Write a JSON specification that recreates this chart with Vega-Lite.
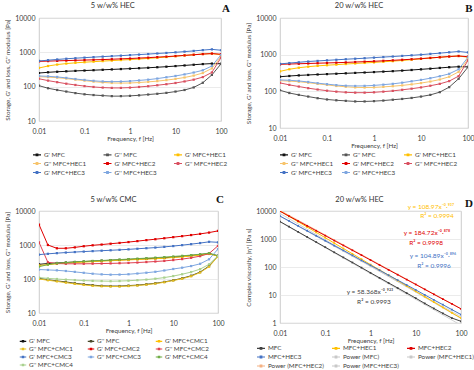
{
"$schema": "https://vega.github.io/schema/vega-lite/v6.json",
"background": "white",
"padding": {"left": 4, "top": 1, "right": 0, "bottom": 0},
"config": {
 "font": "Lato",
 "view": {"stroke": "#bfbfbf", "strokeWidth": 0.8},
 "axis": {"labelFont": "Lato", "labelFontSize": 7, "labelColor": "#404040", "titleFont": "Lato", "titleFontSize": 6.3, "titleFontWeight": "normal", "titleColor": "#404040", "ticks": false, "domain": false, "gridColor": "#e3e3e3", "gridWidth": 0.7, "labelPadding": 4},
 "axisX": {"grid": false, "labelPadding": 6, "titlePadding": 1, "labelFlush": false},
 "axisY": {"grid": true, "titlePadding": 4},
 "legend": {"labelFont": "Lato", "labelFontSize": 6.3, "labelColor": "#404040", "symbolType": "M-1,0H1M-0.2,-0.2H0.2V0.2H-0.2Z", "symbolSize": 64, "symbolStrokeWidth": 1.2, "labelOffset": 2, "gridAlign": "all", "direction": "horizontal", "columns": 3, "orient": "none", "title": null}
},
"datasets": {
 "hec": [
{"s":"G' MFC","f":0.01,"v":250},{"s":"G' MFC","f":0.0158,"v":262},{"s":"G' MFC","f":0.0251,"v":272},{"s":"G' MFC","f":0.0398,"v":280},{"s":"G' MFC","f":0.0631,"v":288},{"s":"G' MFC","f":0.1,"v":295},{"s":"G' MFC","f":0.158,"v":302},{"s":"G' MFC","f":0.251,"v":310},{"s":"G' MFC","f":0.398,"v":318},{"s":"G' MFC","f":0.631,"v":326},{"s":"G' MFC","f":1,"v":335},{"s":"G' MFC","f":1.58,"v":345},{"s":"G' MFC","f":2.51,"v":355},{"s":"G' MFC","f":3.98,"v":368},{"s":"G' MFC","f":6.31,"v":382},{"s":"G' MFC","f":10,"v":398},{"s":"G' MFC","f":15.8,"v":415},{"s":"G' MFC","f":25.1,"v":435},{"s":"G' MFC","f":39.8,"v":455},{"s":"G' MFC","f":63.1,"v":470},{"s":"G' MFC","f":100,"v":465},
{"s":"G'' MFC","f":0.01,"v":107},{"s":"G'' MFC","f":0.0158,"v":90},{"s":"G'' MFC","f":0.0251,"v":80},{"s":"G'' MFC","f":0.0398,"v":72},{"s":"G'' MFC","f":0.0631,"v":65},{"s":"G'' MFC","f":0.1,"v":60},{"s":"G'' MFC","f":0.158,"v":57},{"s":"G'' MFC","f":0.251,"v":55},{"s":"G'' MFC","f":0.398,"v":53},{"s":"G'' MFC","f":0.631,"v":53},{"s":"G'' MFC","f":1,"v":54},{"s":"G'' MFC","f":1.58,"v":56},{"s":"G'' MFC","f":2.51,"v":59},{"s":"G'' MFC","f":3.98,"v":62},{"s":"G'' MFC","f":6.31,"v":66},{"s":"G'' MFC","f":10,"v":72},{"s":"G'' MFC","f":15.8,"v":80},{"s":"G'' MFC","f":25.1,"v":95},{"s":"G'' MFC","f":39.8,"v":130},{"s":"G'' MFC","f":63.1,"v":220},{"s":"G'' MFC","f":100,"v":460},
{"s":"G' MFC+HEC1","f":0.01,"v":350},{"s":"G' MFC+HEC1","f":0.0158,"v":400},{"s":"G' MFC+HEC1","f":0.0251,"v":440},{"s":"G' MFC+HEC1","f":0.0398,"v":470},{"s":"G' MFC+HEC1","f":0.0631,"v":495},{"s":"G' MFC+HEC1","f":0.1,"v":515},{"s":"G' MFC+HEC1","f":0.158,"v":535},{"s":"G' MFC+HEC1","f":0.251,"v":555},{"s":"G' MFC+HEC1","f":0.398,"v":575},{"s":"G' MFC+HEC1","f":0.631,"v":595},{"s":"G' MFC+HEC1","f":1,"v":615},{"s":"G' MFC+HEC1","f":1.58,"v":640},{"s":"G' MFC+HEC1","f":2.51,"v":665},{"s":"G' MFC+HEC1","f":3.98,"v":695},{"s":"G' MFC+HEC1","f":6.31,"v":730},{"s":"G' MFC+HEC1","f":10,"v":770},{"s":"G' MFC+HEC1","f":15.8,"v":810},{"s":"G' MFC+HEC1","f":25.1,"v":850},{"s":"G' MFC+HEC1","f":39.8,"v":890},{"s":"G' MFC+HEC1","f":63.1,"v":920},{"s":"G' MFC+HEC1","f":100,"v":850},
{"s":"G'' MFC+HEC1","f":0.01,"v":195},{"s":"G'' MFC+HEC1","f":0.0158,"v":190},{"s":"G'' MFC+HEC1","f":0.0251,"v":183},{"s":"G'' MFC+HEC1","f":0.0398,"v":172},{"s":"G'' MFC+HEC1","f":0.0631,"v":160},{"s":"G'' MFC+HEC1","f":0.1,"v":150},{"s":"G'' MFC+HEC1","f":0.158,"v":140},{"s":"G'' MFC+HEC1","f":0.251,"v":133},{"s":"G'' MFC+HEC1","f":0.398,"v":128},{"s":"G'' MFC+HEC1","f":0.631,"v":127},{"s":"G'' MFC+HEC1","f":1,"v":128},{"s":"G'' MFC+HEC1","f":1.58,"v":132},{"s":"G'' MFC+HEC1","f":2.51,"v":138},{"s":"G'' MFC+HEC1","f":3.98,"v":145},{"s":"G'' MFC+HEC1","f":6.31,"v":155},{"s":"G'' MFC+HEC1","f":10,"v":168},{"s":"G'' MFC+HEC1","f":15.8,"v":185},{"s":"G'' MFC+HEC1","f":25.1,"v":210},{"s":"G'' MFC+HEC1","f":39.8,"v":250},{"s":"G'' MFC+HEC1","f":63.1,"v":340},{"s":"G'' MFC+HEC1","f":100,"v":760},
{"s":"G' MFC+HEC2","f":0.01,"v":545},{"s":"G' MFC+HEC2","f":0.0158,"v":555},{"s":"G' MFC+HEC2","f":0.0251,"v":565},{"s":"G' MFC+HEC2","f":0.0398,"v":575},{"s":"G' MFC+HEC2","f":0.0631,"v":585},{"s":"G' MFC+HEC2","f":0.1,"v":595},{"s":"G' MFC+HEC2","f":0.158,"v":605},{"s":"G' MFC+HEC2","f":0.251,"v":615},{"s":"G' MFC+HEC2","f":0.398,"v":630},{"s":"G' MFC+HEC2","f":0.631,"v":645},{"s":"G' MFC+HEC2","f":1,"v":660},{"s":"G' MFC+HEC2","f":1.58,"v":680},{"s":"G' MFC+HEC2","f":2.51,"v":700},{"s":"G' MFC+HEC2","f":3.98,"v":725},{"s":"G' MFC+HEC2","f":6.31,"v":750},{"s":"G' MFC+HEC2","f":10,"v":780},{"s":"G' MFC+HEC2","f":15.8,"v":815},{"s":"G' MFC+HEC2","f":25.1,"v":850},{"s":"G' MFC+HEC2","f":39.8,"v":890},{"s":"G' MFC+HEC2","f":63.1,"v":920},{"s":"G' MFC+HEC2","f":100,"v":880},
{"s":"G'' MFC+HEC2","f":0.01,"v":170},{"s":"G'' MFC+HEC2","f":0.0158,"v":150},{"s":"G'' MFC+HEC2","f":0.0251,"v":135},{"s":"G'' MFC+HEC2","f":0.0398,"v":122},{"s":"G'' MFC+HEC2","f":0.0631,"v":112},{"s":"G'' MFC+HEC2","f":0.1,"v":104},{"s":"G'' MFC+HEC2","f":0.158,"v":98},{"s":"G'' MFC+HEC2","f":0.251,"v":94},{"s":"G'' MFC+HEC2","f":0.398,"v":92},{"s":"G'' MFC+HEC2","f":0.631,"v":92},{"s":"G'' MFC+HEC2","f":1,"v":94},{"s":"G'' MFC+HEC2","f":1.58,"v":98},{"s":"G'' MFC+HEC2","f":2.51,"v":103},{"s":"G'' MFC+HEC2","f":3.98,"v":110},{"s":"G'' MFC+HEC2","f":6.31,"v":118},{"s":"G'' MFC+HEC2","f":10,"v":128},{"s":"G'' MFC+HEC2","f":15.8,"v":142},{"s":"G'' MFC+HEC2","f":25.1,"v":160},{"s":"G'' MFC+HEC2","f":39.8,"v":190},{"s":"G'' MFC+HEC2","f":63.1,"v":260},{"s":"G'' MFC+HEC2","f":100,"v":700},
{"s":"G' MFC+HEC3","f":0.01,"v":560},{"s":"G' MFC+HEC3","f":0.0158,"v":590},{"s":"G' MFC+HEC3","f":0.0251,"v":620},{"s":"G' MFC+HEC3","f":0.0398,"v":650},{"s":"G' MFC+HEC3","f":0.0631,"v":675},{"s":"G' MFC+HEC3","f":0.1,"v":700},{"s":"G' MFC+HEC3","f":0.158,"v":725},{"s":"G' MFC+HEC3","f":0.251,"v":750},{"s":"G' MFC+HEC3","f":0.398,"v":775},{"s":"G' MFC+HEC3","f":0.631,"v":800},{"s":"G' MFC+HEC3","f":1,"v":830},{"s":"G' MFC+HEC3","f":1.58,"v":860},{"s":"G' MFC+HEC3","f":2.51,"v":890},{"s":"G' MFC+HEC3","f":3.98,"v":925},{"s":"G' MFC+HEC3","f":6.31,"v":960},{"s":"G' MFC+HEC3","f":10,"v":1000},{"s":"G' MFC+HEC3","f":15.8,"v":1050},{"s":"G' MFC+HEC3","f":25.1,"v":1100},{"s":"G' MFC+HEC3","f":39.8,"v":1160},{"s":"G' MFC+HEC3","f":63.1,"v":1220},{"s":"G' MFC+HEC3","f":100,"v":1150},
{"s":"G'' MFC+HEC3","f":0.01,"v":205},{"s":"G'' MFC+HEC3","f":0.0158,"v":200},{"s":"G'' MFC+HEC3","f":0.0251,"v":192},{"s":"G'' MFC+HEC3","f":0.0398,"v":180},{"s":"G'' MFC+HEC3","f":0.0631,"v":167},{"s":"G'' MFC+HEC3","f":0.1,"v":157},{"s":"G'' MFC+HEC3","f":0.158,"v":148},{"s":"G'' MFC+HEC3","f":0.251,"v":142},{"s":"G'' MFC+HEC3","f":0.398,"v":140},{"s":"G'' MFC+HEC3","f":0.631,"v":141},{"s":"G'' MFC+HEC3","f":1,"v":145},{"s":"G'' MFC+HEC3","f":1.58,"v":152},{"s":"G'' MFC+HEC3","f":2.51,"v":160},{"s":"G'' MFC+HEC3","f":3.98,"v":172},{"s":"G'' MFC+HEC3","f":6.31,"v":188},{"s":"G'' MFC+HEC3","f":10,"v":205},{"s":"G'' MFC+HEC3","f":15.8,"v":228},{"s":"G'' MFC+HEC3","f":25.1,"v":258},{"s":"G'' MFC+HEC3","f":39.8,"v":300},{"s":"G'' MFC+HEC3","f":63.1,"v":400},{"s":"G'' MFC+HEC3","f":100,"v":850}
 ],
 "cmc": [
{"s":"G' MFC","f":0.01,"v":270},{"s":"G' MFC","f":0.0158,"v":285},{"s":"G' MFC","f":0.0251,"v":295},{"s":"G' MFC","f":0.0398,"v":305},{"s":"G' MFC","f":0.0631,"v":315},{"s":"G' MFC","f":0.1,"v":325},{"s":"G' MFC","f":0.158,"v":335},{"s":"G' MFC","f":0.251,"v":345},{"s":"G' MFC","f":0.398,"v":355},{"s":"G' MFC","f":0.631,"v":365},{"s":"G' MFC","f":1,"v":375},{"s":"G' MFC","f":1.58,"v":385},{"s":"G' MFC","f":2.51,"v":395},{"s":"G' MFC","f":3.98,"v":405},{"s":"G' MFC","f":6.31,"v":420},{"s":"G' MFC","f":10,"v":440},{"s":"G' MFC","f":15.8,"v":460},{"s":"G' MFC","f":25.1,"v":490},{"s":"G' MFC","f":39.8,"v":520},{"s":"G' MFC","f":63.1,"v":560},{"s":"G' MFC","f":100,"v":480},
{"s":"G'' MFC","f":0.01,"v":105},{"s":"G'' MFC","f":0.0158,"v":95},{"s":"G'' MFC","f":0.0251,"v":88},{"s":"G'' MFC","f":0.0398,"v":82},{"s":"G'' MFC","f":0.0631,"v":75},{"s":"G'' MFC","f":0.1,"v":70},{"s":"G'' MFC","f":0.158,"v":66},{"s":"G'' MFC","f":0.251,"v":63},{"s":"G'' MFC","f":0.398,"v":62},{"s":"G'' MFC","f":0.631,"v":62},{"s":"G'' MFC","f":1,"v":64},{"s":"G'' MFC","f":1.58,"v":66},{"s":"G'' MFC","f":2.51,"v":70},{"s":"G'' MFC","f":3.98,"v":75},{"s":"G'' MFC","f":6.31,"v":82},{"s":"G'' MFC","f":10,"v":92},{"s":"G'' MFC","f":15.8,"v":105},{"s":"G'' MFC","f":25.1,"v":125},{"s":"G'' MFC","f":39.8,"v":160},{"s":"G'' MFC","f":63.1,"v":240},{"s":"G'' MFC","f":100,"v":480},
{"s":"G' MFC+CMC1","f":0.01,"v":250},{"s":"G' MFC+CMC1","f":0.0158,"v":265},{"s":"G' MFC+CMC1","f":0.0251,"v":280},{"s":"G' MFC+CMC1","f":0.0398,"v":295},{"s":"G' MFC+CMC1","f":0.0631,"v":305},{"s":"G' MFC+CMC1","f":0.1,"v":315},{"s":"G' MFC+CMC1","f":0.158,"v":325},{"s":"G' MFC+CMC1","f":0.251,"v":335},{"s":"G' MFC+CMC1","f":0.398,"v":345},{"s":"G' MFC+CMC1","f":0.631,"v":355},{"s":"G' MFC+CMC1","f":1,"v":365},{"s":"G' MFC+CMC1","f":1.58,"v":375},{"s":"G' MFC+CMC1","f":2.51,"v":385},{"s":"G' MFC+CMC1","f":3.98,"v":395},{"s":"G' MFC+CMC1","f":6.31,"v":410},{"s":"G' MFC+CMC1","f":10,"v":430},{"s":"G' MFC+CMC1","f":15.8,"v":450},{"s":"G' MFC+CMC1","f":25.1,"v":475},{"s":"G' MFC+CMC1","f":39.8,"v":505},{"s":"G' MFC+CMC1","f":63.1,"v":545},{"s":"G' MFC+CMC1","f":100,"v":470},
{"s":"G'' MFC+CMC1","f":0.01,"v":100},{"s":"G'' MFC+CMC1","f":0.0158,"v":92},{"s":"G'' MFC+CMC1","f":0.0251,"v":85},{"s":"G'' MFC+CMC1","f":0.0398,"v":78},{"s":"G'' MFC+CMC1","f":0.0631,"v":72},{"s":"G'' MFC+CMC1","f":0.1,"v":67},{"s":"G'' MFC+CMC1","f":0.158,"v":63},{"s":"G'' MFC+CMC1","f":0.251,"v":61},{"s":"G'' MFC+CMC1","f":0.398,"v":60},{"s":"G'' MFC+CMC1","f":0.631,"v":60},{"s":"G'' MFC+CMC1","f":1,"v":62},{"s":"G'' MFC+CMC1","f":1.58,"v":64},{"s":"G'' MFC+CMC1","f":2.51,"v":68},{"s":"G'' MFC+CMC1","f":3.98,"v":73},{"s":"G'' MFC+CMC1","f":6.31,"v":80},{"s":"G'' MFC+CMC1","f":10,"v":90},{"s":"G'' MFC+CMC1","f":15.8,"v":102},{"s":"G'' MFC+CMC1","f":25.1,"v":120},{"s":"G'' MFC+CMC1","f":39.8,"v":155},{"s":"G'' MFC+CMC1","f":63.1,"v":230},{"s":"G'' MFC+CMC1","f":100,"v":460},
{"s":"G' MFC+CMC2","f":0.01,"v":4000},{"s":"G' MFC+CMC2","f":0.0158,"v":1000},{"s":"G' MFC+CMC2","f":0.0251,"v":800},{"s":"G' MFC+CMC2","f":0.0398,"v":800},{"s":"G' MFC+CMC2","f":0.0631,"v":850},{"s":"G' MFC+CMC2","f":0.1,"v":920},{"s":"G' MFC+CMC2","f":0.158,"v":980},{"s":"G' MFC+CMC2","f":0.251,"v":1030},{"s":"G' MFC+CMC2","f":0.398,"v":1090},{"s":"G' MFC+CMC2","f":0.631,"v":1150},{"s":"G' MFC+CMC2","f":1,"v":1220},{"s":"G' MFC+CMC2","f":1.58,"v":1300},{"s":"G' MFC+CMC2","f":2.51,"v":1390},{"s":"G' MFC+CMC2","f":3.98,"v":1480},{"s":"G' MFC+CMC2","f":6.31,"v":1580},{"s":"G' MFC+CMC2","f":10,"v":1700},{"s":"G' MFC+CMC2","f":15.8,"v":1820},{"s":"G' MFC+CMC2","f":25.1,"v":1960},{"s":"G' MFC+CMC2","f":39.8,"v":2120},{"s":"G' MFC+CMC2","f":63.1,"v":2320},{"s":"G' MFC+CMC2","f":100,"v":2600},
{"s":"G'' MFC+CMC2","f":0.01,"v":1200},{"s":"G'' MFC+CMC2","f":0.0158,"v":310},{"s":"G'' MFC+CMC2","f":0.0251,"v":285},{"s":"G'' MFC+CMC2","f":0.0398,"v":280},{"s":"G'' MFC+CMC2","f":0.0631,"v":280},{"s":"G'' MFC+CMC2","f":0.1,"v":280},{"s":"G'' MFC+CMC2","f":0.158,"v":282},{"s":"G'' MFC+CMC2","f":0.251,"v":285},{"s":"G'' MFC+CMC2","f":0.398,"v":288},{"s":"G'' MFC+CMC2","f":0.631,"v":292},{"s":"G'' MFC+CMC2","f":1,"v":297},{"s":"G'' MFC+CMC2","f":1.58,"v":305},{"s":"G'' MFC+CMC2","f":2.51,"v":315},{"s":"G'' MFC+CMC2","f":3.98,"v":327},{"s":"G'' MFC+CMC2","f":6.31,"v":340},{"s":"G'' MFC+CMC2","f":10,"v":360},{"s":"G'' MFC+CMC2","f":15.8,"v":385},{"s":"G'' MFC+CMC2","f":25.1,"v":420},{"s":"G'' MFC+CMC2","f":39.8,"v":470},{"s":"G'' MFC+CMC2","f":63.1,"v":560},{"s":"G'' MFC+CMC2","f":100,"v":950},
{"s":"G' MFC+CMC3","f":0.01,"v":520},{"s":"G' MFC+CMC3","f":0.0158,"v":550},{"s":"G' MFC+CMC3","f":0.0251,"v":575},{"s":"G' MFC+CMC3","f":0.0398,"v":600},{"s":"G' MFC+CMC3","f":0.0631,"v":620},{"s":"G' MFC+CMC3","f":0.1,"v":640},{"s":"G' MFC+CMC3","f":0.158,"v":660},{"s":"G' MFC+CMC3","f":0.251,"v":680},{"s":"G' MFC+CMC3","f":0.398,"v":700},{"s":"G' MFC+CMC3","f":0.631,"v":720},{"s":"G' MFC+CMC3","f":1,"v":745},{"s":"G' MFC+CMC3","f":1.58,"v":775},{"s":"G' MFC+CMC3","f":2.51,"v":805},{"s":"G' MFC+CMC3","f":3.98,"v":840},{"s":"G' MFC+CMC3","f":6.31,"v":880},{"s":"G' MFC+CMC3","f":10,"v":930},{"s":"G' MFC+CMC3","f":15.8,"v":990},{"s":"G' MFC+CMC3","f":25.1,"v":1060},{"s":"G' MFC+CMC3","f":39.8,"v":1140},{"s":"G' MFC+CMC3","f":63.1,"v":1240},{"s":"G' MFC+CMC3","f":100,"v":1200},
{"s":"G'' MFC+CMC3","f":0.01,"v":190},{"s":"G'' MFC+CMC3","f":0.0158,"v":185},{"s":"G'' MFC+CMC3","f":0.0251,"v":180},{"s":"G'' MFC+CMC3","f":0.0398,"v":172},{"s":"G'' MFC+CMC3","f":0.0631,"v":162},{"s":"G'' MFC+CMC3","f":0.1,"v":152},{"s":"G'' MFC+CMC3","f":0.158,"v":143},{"s":"G'' MFC+CMC3","f":0.251,"v":137},{"s":"G'' MFC+CMC3","f":0.398,"v":134},{"s":"G'' MFC+CMC3","f":0.631,"v":135},{"s":"G'' MFC+CMC3","f":1,"v":138},{"s":"G'' MFC+CMC3","f":1.58,"v":145},{"s":"G'' MFC+CMC3","f":2.51,"v":153},{"s":"G'' MFC+CMC3","f":3.98,"v":163},{"s":"G'' MFC+CMC3","f":6.31,"v":178},{"s":"G'' MFC+CMC3","f":10,"v":197},{"s":"G'' MFC+CMC3","f":15.8,"v":215},{"s":"G'' MFC+CMC3","f":25.1,"v":240},{"s":"G'' MFC+CMC3","f":39.8,"v":280},{"s":"G'' MFC+CMC3","f":63.1,"v":380},{"s":"G'' MFC+CMC3","f":100,"v":760},
{"s":"G' MFC+CMC4","f":0.01,"v":230},{"s":"G' MFC+CMC4","f":0.0158,"v":265},{"s":"G' MFC+CMC4","f":0.0251,"v":290},{"s":"G' MFC+CMC4","f":0.0398,"v":305},{"s":"G' MFC+CMC4","f":0.0631,"v":318},{"s":"G' MFC+CMC4","f":0.1,"v":330},{"s":"G' MFC+CMC4","f":0.158,"v":340},{"s":"G' MFC+CMC4","f":0.251,"v":350},{"s":"G' MFC+CMC4","f":0.398,"v":360},{"s":"G' MFC+CMC4","f":0.631,"v":372},{"s":"G' MFC+CMC4","f":1,"v":385},{"s":"G' MFC+CMC4","f":1.58,"v":398},{"s":"G' MFC+CMC4","f":2.51,"v":410},{"s":"G' MFC+CMC4","f":3.98,"v":425},{"s":"G' MFC+CMC4","f":6.31,"v":440},{"s":"G' MFC+CMC4","f":10,"v":460},{"s":"G' MFC+CMC4","f":15.8,"v":480},{"s":"G' MFC+CMC4","f":25.1,"v":505},{"s":"G' MFC+CMC4","f":39.8,"v":535},{"s":"G' MFC+CMC4","f":63.1,"v":575},{"s":"G' MFC+CMC4","f":100,"v":480},
{"s":"G'' MFC+CMC4","f":0.01,"v":110},{"s":"G'' MFC+CMC4","f":0.0158,"v":104},{"s":"G'' MFC+CMC4","f":0.0251,"v":100},{"s":"G'' MFC+CMC4","f":0.0398,"v":96},{"s":"G'' MFC+CMC4","f":0.0631,"v":93},{"s":"G'' MFC+CMC4","f":0.1,"v":90},{"s":"G'' MFC+CMC4","f":0.158,"v":88},{"s":"G'' MFC+CMC4","f":0.251,"v":87},{"s":"G'' MFC+CMC4","f":0.398,"v":86},{"s":"G'' MFC+CMC4","f":0.631,"v":87},{"s":"G'' MFC+CMC4","f":1,"v":89},{"s":"G'' MFC+CMC4","f":1.58,"v":92},{"s":"G'' MFC+CMC4","f":2.51,"v":96},{"s":"G'' MFC+CMC4","f":3.98,"v":102},{"s":"G'' MFC+CMC4","f":6.31,"v":110},{"s":"G'' MFC+CMC4","f":10,"v":122},{"s":"G'' MFC+CMC4","f":15.8,"v":138},{"s":"G'' MFC+CMC4","f":25.1,"v":160},{"s":"G'' MFC+CMC4","f":39.8,"v":195},{"s":"G'' MFC+CMC4","f":63.1,"v":270},{"s":"G'' MFC+CMC4","f":100,"v":480}
 ],
 "visc": [
{"s":"MFC","f":0.01,"v":4200},{"s":"MFC","f":0.0158,"v":2750},{"s":"MFC","f":0.0251,"v":1800},{"s":"MFC","f":0.0398,"v":1180},{"s":"MFC","f":0.0631,"v":775},{"s":"MFC","f":0.1,"v":510},{"s":"MFC","f":0.158,"v":335},{"s":"MFC","f":0.251,"v":220},{"s":"MFC","f":0.398,"v":145},{"s":"MFC","f":0.631,"v":95},{"s":"MFC","f":1,"v":62},{"s":"MFC","f":1.58,"v":41},{"s":"MFC","f":2.51,"v":27},{"s":"MFC","f":3.98,"v":17.8},{"s":"MFC","f":6.31,"v":11.7},{"s":"MFC","f":10,"v":7.7},{"s":"MFC","f":15.8,"v":5.0},{"s":"MFC","f":25.1,"v":3.3},{"s":"MFC","f":39.8,"v":2.2},{"s":"MFC","f":63.1,"v":1.5},{"s":"MFC","f":100,"v":1.15},
{"s":"MFC+HEC1","f":0.01,"v":10000},{"s":"MFC+HEC1","f":0.0158,"v":6440},{"s":"MFC+HEC1","f":0.0251,"v":4140},{"s":"MFC+HEC1","f":0.0398,"v":2670},{"s":"MFC+HEC1","f":0.0631,"v":1720},{"s":"MFC+HEC1","f":0.1,"v":1110},{"s":"MFC+HEC1","f":0.158,"v":713},{"s":"MFC+HEC1","f":0.251,"v":459},{"s":"MFC+HEC1","f":0.398,"v":296},{"s":"MFC+HEC1","f":0.631,"v":190},{"s":"MFC+HEC1","f":1,"v":122},{"s":"MFC+HEC1","f":1.58,"v":79},{"s":"MFC+HEC1","f":2.51,"v":51},{"s":"MFC+HEC1","f":3.98,"v":33},{"s":"MFC+HEC1","f":6.31,"v":21},{"s":"MFC+HEC1","f":10,"v":13.5},{"s":"MFC+HEC1","f":15.8,"v":8.7},{"s":"MFC+HEC1","f":25.1,"v":5.6},{"s":"MFC+HEC1","f":39.8,"v":3.6},{"s":"MFC+HEC1","f":63.1,"v":2.3},{"s":"MFC+HEC1","f":100,"v":1.5},
{"s":"MFC+HEC2","f":0.01,"v":9800},{"s":"MFC+HEC2","f":0.0158,"v":6560},{"s":"MFC+HEC2","f":0.0251,"v":4390},{"s":"MFC+HEC2","f":0.0398,"v":2940},{"s":"MFC+HEC2","f":0.0631,"v":1970},{"s":"MFC+HEC2","f":0.1,"v":1320},{"s":"MFC+HEC2","f":0.158,"v":880},{"s":"MFC+HEC2","f":0.251,"v":590},{"s":"MFC+HEC2","f":0.398,"v":395},{"s":"MFC+HEC2","f":0.631,"v":265},{"s":"MFC+HEC2","f":1,"v":177},{"s":"MFC+HEC2","f":1.58,"v":118},{"s":"MFC+HEC2","f":2.51,"v":79},{"s":"MFC+HEC2","f":3.98,"v":53},{"s":"MFC+HEC2","f":6.31,"v":35.5},{"s":"MFC+HEC2","f":10,"v":23.8},{"s":"MFC+HEC2","f":15.8,"v":15.9},{"s":"MFC+HEC2","f":25.1,"v":10.6},{"s":"MFC+HEC2","f":39.8,"v":7.1},{"s":"MFC+HEC2","f":63.1,"v":4.8},{"s":"MFC+HEC2","f":100,"v":3.2},
{"s":"MFC+HEC3","f":0.01,"v":6600},{"s":"MFC+HEC3","f":0.0158,"v":4400},{"s":"MFC+HEC3","f":0.0251,"v":2930},{"s":"MFC+HEC3","f":0.0398,"v":1960},{"s":"MFC+HEC3","f":0.0631,"v":1300},{"s":"MFC+HEC3","f":0.1,"v":870},{"s":"MFC+HEC3","f":0.158,"v":580},{"s":"MFC+HEC3","f":0.251,"v":390},{"s":"MFC+HEC3","f":0.398,"v":260},{"s":"MFC+HEC3","f":0.631,"v":172},{"s":"MFC+HEC3","f":1,"v":115},{"s":"MFC+HEC3","f":1.58,"v":77},{"s":"MFC+HEC3","f":2.51,"v":51},{"s":"MFC+HEC3","f":3.98,"v":34},{"s":"MFC+HEC3","f":6.31,"v":22.7},{"s":"MFC+HEC3","f":10,"v":15.2},{"s":"MFC+HEC3","f":15.8,"v":10.1},{"s":"MFC+HEC3","f":25.1,"v":6.7},{"s":"MFC+HEC3","f":39.8,"v":4.5},{"s":"MFC+HEC3","f":63.1,"v":3.0},{"s":"MFC+HEC3","f":100,"v":2.0}
 ],
 "power": [
{"s":"Power (MFC)","f":0.01,"v":4092},{"s":"Power (MFC)","f":100,"v":0.833},
{"s":"Power (MFC+HEC1)","f":0.01,"v":8153},{"s":"Power (MFC+HEC1)","f":100,"v":1.456},
{"s":"Power (MFC+HEC2)","f":0.01,"v":10533},{"s":"Power (MFC+HEC2)","f":100,"v":3.24},
{"s":"Power (MFC+HEC3)","f":0.01,"v":6497},{"s":"Power (MFC+HEC3)","f":100,"v":1.694}
 ],
 "eqs": [
{"s":"MFC+HEC1","f":21.7,"v":14000,"t":"y = 108.97x⁻⁰·⁹³⁷"},
{"s":"MFC+HEC1","f":29.5,"v":6550,"t":"R² = 0.9994"},
{"s":"MFC+HEC2","f":17.7,"v":1700,"t":"y = 184.72x⁻⁰·⁸⁷⁸"},
{"s":"MFC+HEC2","f":16.9,"v":728,"t":"R² = 0.9998"},
{"s":"MFC+HEC3","f":24,"v":243,"t":"y = 104.89x⁻⁰·⁸⁹⁶"},
{"s":"MFC+HEC3","f":25.3,"v":113,"t":"R² = 0.9996"},
{"s":"MFC","f":0.975,"v":12.6,"t":"y = 58.368x⁻⁰·⁹²³"},
{"s":"MFC","f":1.19,"v":5.4,"t":"R² = 0.9993"}
 ]
},
"resolve": {"scale": {"color": "independent"}, "legend": {"color": "independent"}},
"bounds": "flush",
"align": "each",
"columns": 2,
"spacing": {"row": 83, "column": 59},
"concat": [
  {"width": 182, "height": 103,
   "encoding": {
    "x": {"field": "f", "type": "quantitative", "scale": {"type": "log", "domain": [0.01, 100]}, "axis": {"values": [0.01, 0.1, 1, 10, 100], "format": "~g", "title": "Frequency, f [Hz]"}},
    "y": {"field": "v", "type": "quantitative", "scale": {"type": "log", "domain": [10, 10000]}, "axis": {"values": [10, 100, 1000, 10000], "format": "~g", "title": "Storage, G' and loss, G'' modulus [Pa]"}}
   },
   "layer": [
    {"data": {"name": "hec"},
     "mark": {"type": "line", "strokeWidth": 1, "clip": true, "point": {"filled": true, "size": 5, "shape": "square"}},
     "encoding": {"color": {"field": "s", "type": "nominal",
       "scale": {"domain": ["G' MFC","G'' MFC","G' MFC+HEC1","G'' MFC+HEC1","G' MFC+HEC2","G'' MFC+HEC2","G' MFC+HEC3","G'' MFC+HEC3"], "range": ["#111111","#555555","#ffc000","#f7c46c","#e00000","#d95060","#4472c4","#7ea6e0"]},
       "legend": {"legendX": -7, "legendY": 131.5, "rowPadding": -1, "columnPadding": 13.5}}}},
    {"data": {"values": [{"f": 0.42, "v": 22300, "t": "5 w/w% HEC"}]},
     "mark": {"type": "text", "font": "Lato", "fontSize": 7.5, "color": "#333333", "clip": false},
     "encoding": {"text": {"field": "t"}}},
    {"data": {"values": [{"f": 129, "v": 18300, "t": "A"}]},
     "mark": {"type": "text", "font": "Liberation Serif", "fontWeight": "bold", "fontSize": 11, "color": "#111111", "clip": false},
     "encoding": {"text": {"field": "t"}}}
   ]},
  {"width": 188, "height": 110,
   "encoding": {
    "x": {"field": "f", "type": "quantitative", "scale": {"type": "log", "domain": [0.01, 100]}, "axis": {"values": [0.01, 0.1, 1, 10, 100], "format": "~g", "title": "Frequency, f [Hz]"}},
    "y": {"field": "v", "type": "quantitative", "scale": {"type": "log", "domain": [10, 10000]}, "axis": {"values": [10, 100, 1000, 10000], "format": "~g", "title": "Storage, G' and loss, G'' modulus [Pa]"}}
   },
   "layer": [
    {"data": {"name": "hec"},
     "mark": {"type": "line", "strokeWidth": 1, "clip": true, "point": {"filled": true, "size": 5, "shape": "square"}},
     "encoding": {"color": {"field": "s", "type": "nominal",
       "scale": {"domain": ["G' MFC","G'' MFC","G' MFC+HEC1","G'' MFC+HEC1","G' MFC+HEC2","G'' MFC+HEC2","G' MFC+HEC3","G'' MFC+HEC3"], "range": ["#111111","#555555","#ffc000","#f7c46c","#e00000","#d95060","#4472c4","#7ea6e0"]},
       "legend": {"legendX": -1, "legendY": 131.5, "rowPadding": -0.5, "columnPadding": 5}}}},
    {"data": {"values": [{"f": 0.48, "v": 21200, "t": "20 w/w% HEC"}]},
     "mark": {"type": "text", "font": "Lato", "fontSize": 7.5, "color": "#333333", "clip": false},
     "encoding": {"text": {"field": "t"}}},
    {"data": {"values": [{"f": 105, "v": 17600, "t": "B"}]},
     "mark": {"type": "text", "font": "Liberation Serif", "fontWeight": "bold", "fontSize": 11, "color": "#111111", "clip": false},
     "encoding": {"text": {"field": "t"}}}
   ]},
  {"width": 179, "height": 102,
   "encoding": {
    "x": {"field": "f", "type": "quantitative", "scale": {"type": "log", "domain": [0.01, 100]}, "axis": {"values": [0.01, 0.1, 1, 10, 100], "format": "~g", "title": "Frequency, f [Hz]"}},
    "y": {"field": "v", "type": "quantitative", "scale": {"type": "log", "domain": [10, 10000]}, "axis": {"values": [10, 100, 1000, 10000], "format": "~g", "title": "Storage, G' and loss, G'' modulus [Pa]"}}
   },
   "layer": [
    {"data": {"name": "cmc"},
     "mark": {"type": "line", "strokeWidth": 1, "clip": true, "point": {"filled": true, "size": 5, "shape": "square"}},
     "encoding": {"color": {"field": "s", "type": "nominal",
       "scale": {"domain": ["G' MFC","G'' MFC","G' MFC+CMC1","G'' MFC+CMC1","G' MFC+CMC2","G'' MFC+CMC2","G' MFC+CMC3","G'' MFC+CMC3","G' MFC+CMC4","G'' MFC+CMC4"], "range": ["#111111","#4a4a2a","#ffc000","#e8c020","#e00000","#e04050","#4472c4","#7ea6e0","#70ad47","#a9d18e"]},
       "legend": {"legendX": -20, "legendY": 126, "rowPadding": 0, "symbolSize": 42, "columnPadding": 12}}}},
    {"data": {"values": [{"f": 0.46, "v": 21000, "t": "5 w/w% CMC"}]},
     "mark": {"type": "text", "font": "Lato", "fontSize": 7.5, "color": "#333333", "clip": false},
     "encoding": {"text": {"field": "t"}}},
    {"data": {"values": [{"f": 111, "v": 21000, "t": "C"}]},
     "mark": {"type": "text", "font": "Liberation Serif", "fontWeight": "bold", "fontSize": 11, "color": "#111111", "clip": false},
     "encoding": {"text": {"field": "t"}}}
   ]},
  {"width": 181, "height": 112,
   "encoding": {
    "x": {"field": "f", "type": "quantitative", "scale": {"type": "log", "domain": [0.01, 100]}, "axis": {"values": [0.01, 0.1, 1, 10, 100], "format": "~g", "title": "Frequency, f [Hz]"}},
    "y": {"field": "v", "type": "quantitative", "scale": {"type": "log", "domain": [1, 10000]}, "axis": {"values": [1, 10, 100, 1000, 10000], "format": "~g", "title": "Complex viscosity, |η*| [Pa s]"}}
   },
   "layer": [
    {"data": {"name": "power"},
     "mark": {"type": "line", "strokeWidth": 0.8, "clip": true},
     "encoding": {"color": {"field": "s", "type": "nominal",
       "scale": {"domain": ["MFC","MFC+HEC1","MFC+HEC2","MFC+HEC3","Power (MFC)","Power (MFC+HEC1)","Power (MFC+HEC2)","Power (MFC+HEC3)"], "range": ["#404040","#ffc000","#e00000","#4472c4","#c8c8c8","#c8c8c8","#f4b183","#c8c8c8"]},
       "legend": {"legendX": -24, "legendY": 132, "rowPadding": -0.5, "columnPadding": 4}}}},
    {"data": {"name": "visc"},
     "mark": {"type": "line", "strokeWidth": 1, "clip": true, "point": {"filled": true, "size": 3, "shape": "square"}},
     "encoding": {"color": {"field": "s", "type": "nominal",
       "scale": {"domain": ["MFC","MFC+HEC1","MFC+HEC2","MFC+HEC3","Power (MFC)","Power (MFC+HEC1)","Power (MFC+HEC2)","Power (MFC+HEC3)"], "range": ["#404040","#ffc000","#e00000","#4472c4","#c8c8c8","#c8c8c8","#f4b183","#c8c8c8"]}}}},
    {"data": {"name": "eqs"},
     "mark": {"type": "text", "fontSize": 6.5, "font": "Lato", "clip": false},
     "encoding": {"text": {"field": "t"}, "color": {"field": "s", "type": "nominal", "legend": null,
       "scale": {"domain": ["MFC","MFC+HEC1","MFC+HEC2","MFC+HEC3","Power (MFC)","Power (MFC+HEC1)","Power (MFC+HEC2)","Power (MFC+HEC3)"], "range": ["#404040","#ffc000","#e00000","#4472c4","#c8c8c8","#c8c8c8","#f4b183","#c8c8c8"]}}}},
    {"data": {"values": [{"f": 0.57, "v": 24700, "t": "20 w/w% HEC"}]},
     "mark": {"type": "text", "font": "Lato", "fontSize": 7.5, "color": "#333333", "clip": false},
     "encoding": {"text": {"field": "t"}}},
    {"data": {"values": [{"f": 150, "v": 17800, "t": "D"}]},
     "mark": {"type": "text", "font": "Liberation Serif", "fontWeight": "bold", "fontSize": 11, "color": "#111111", "clip": false},
     "encoding": {"text": {"field": "t"}}}
   ]}
]
}
